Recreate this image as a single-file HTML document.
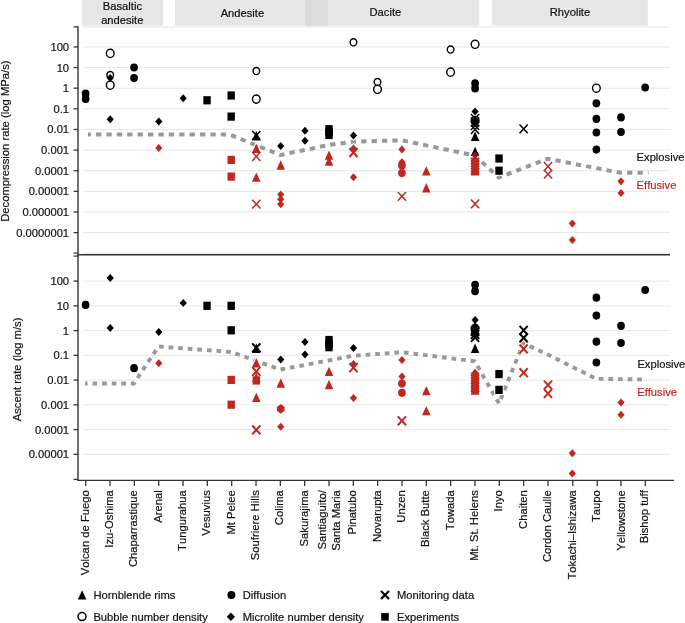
<!DOCTYPE html><html><head><meta charset="utf-8"><style>html,body{margin:0;padding:0;background:#fff;width:685px;height:623px;overflow:hidden}svg{display:block;will-change:transform;filter:blur(0.3px)}text{stroke:#111;stroke-width:0.2px;font-kerning:none;font-family:"Liberation Sans",sans-serif;font-size:11.2px;fill:#111}</style></head><body>
<svg width="685" height="623" viewBox="0 0 685 623">
<rect x="82" y="0" width="81" height="25.7" fill="#e6e6e6"/>
<rect x="175" y="0" width="153" height="25.6" fill="#e6e6e6"/>
<rect x="305" y="0" width="174.3" height="25.6" fill="#e6e6e6"/>
<rect x="305" y="0" width="23" height="25.8" fill="#dcdcdc"/>
<rect x="491.8" y="0" width="156" height="25.6" fill="#e6e6e6"/>
<text x="122.4" y="10.2" text-anchor="middle">Basaltic</text>
<text x="122.3" y="23.7" text-anchor="middle">andesite</text>
<text x="242.4" y="16.9" text-anchor="middle">Andesite</text>
<text x="385.4" y="16.4" text-anchor="middle">Dacite</text>
<text x="570" y="16.4" text-anchor="middle">Rhyolite</text>
<line x1="83" x2="670" y1="26.90" y2="26.90" stroke="#e5e5e5" stroke-width="1"/>
<line x1="83" x2="670" y1="46.94" y2="46.94" stroke="#e5e5e5" stroke-width="1"/>
<line x1="83" x2="670" y1="67.57" y2="67.57" stroke="#e5e5e5" stroke-width="1"/>
<line x1="83" x2="670" y1="88.20" y2="88.20" stroke="#e5e5e5" stroke-width="1"/>
<line x1="83" x2="670" y1="108.83" y2="108.83" stroke="#e5e5e5" stroke-width="1"/>
<line x1="83" x2="670" y1="129.46" y2="129.46" stroke="#e5e5e5" stroke-width="1"/>
<line x1="83" x2="670" y1="150.09" y2="150.09" stroke="#e5e5e5" stroke-width="1"/>
<line x1="83" x2="670" y1="170.72" y2="170.72" stroke="#e5e5e5" stroke-width="1"/>
<line x1="83" x2="670" y1="191.35" y2="191.35" stroke="#e5e5e5" stroke-width="1"/>
<line x1="83" x2="670" y1="211.98" y2="211.98" stroke="#e5e5e5" stroke-width="1"/>
<line x1="83" x2="670" y1="232.61" y2="232.61" stroke="#e5e5e5" stroke-width="1"/>
<line x1="83" x2="670" y1="253.24" y2="253.24" stroke="#e5e5e5" stroke-width="1"/>
<line x1="83" x2="670" y1="281.10" y2="281.10" stroke="#e5e5e5" stroke-width="1"/>
<line x1="83" x2="670" y1="305.85" y2="305.85" stroke="#e5e5e5" stroke-width="1"/>
<line x1="83" x2="670" y1="330.60" y2="330.60" stroke="#e5e5e5" stroke-width="1"/>
<line x1="83" x2="670" y1="355.35" y2="355.35" stroke="#e5e5e5" stroke-width="1"/>
<line x1="83" x2="670" y1="380.10" y2="380.10" stroke="#e5e5e5" stroke-width="1"/>
<line x1="83" x2="670" y1="404.85" y2="404.85" stroke="#e5e5e5" stroke-width="1"/>
<line x1="83" x2="670" y1="429.60" y2="429.60" stroke="#e5e5e5" stroke-width="1"/>
<line x1="83" x2="670" y1="454.35" y2="454.35" stroke="#e5e5e5" stroke-width="1"/>
<path d="M88.0 134.5 L229.5 134.5 L280.5 155.0 L328.7 145.0 L353.0 141.7 L401.7 140.3 L474.7 155.5 L499.0 177.5 L547.6 158.7 L620.5 172.8 L648.5 172.8" fill="none" stroke="#999" stroke-width="4" stroke-dasharray="5.3 5.1" stroke-dashoffset="2.4"/>
<path d="M85.1 383.5 L133.9 383.5 L158.4 346.5 L231.4 352.0 L280.2 369.6 L353.0 355.8 L401.7 352.2 L474.7 361.3 L499.0 403.5 L523.3 343.2 L547.6 354.5 L596.3 378.8 L647.0 379.5" fill="none" stroke="#999" stroke-width="3.9" stroke-dasharray="4.7 4.9" stroke-dashoffset="2.2"/>
<ellipse cx="85.60" cy="93.70" rx="3.85" ry="4.1" fill="#fff" stroke="#fff" stroke-width="2"/>
<ellipse cx="85.60" cy="98.90" rx="3.85" ry="4.1" fill="#fff" stroke="#fff" stroke-width="2"/>
<ellipse cx="110.23" cy="53.40" rx="3.85" ry="4.1" fill="#fff" stroke="#fff" stroke-width="3.4"/>
<ellipse cx="110.23" cy="75.10" rx="3.3" ry="3.55" fill="#fff" stroke="#fff" stroke-width="3.4"/>
<path d="M110.23 73.90L113.83 77.90L110.23 81.90L106.63 77.90Z" fill="#fff" stroke="#fff" stroke-width="2"/>
<ellipse cx="110.23" cy="85.20" rx="3.85" ry="4.1" fill="#fff" stroke="#fff" stroke-width="3.4"/>
<path d="M110.23 115.20L113.83 119.20L110.23 123.20L106.63 119.20Z" fill="#fff" stroke="#fff" stroke-width="2"/>
<ellipse cx="134.06" cy="67.50" rx="3.85" ry="4.1" fill="#fff" stroke="#fff" stroke-width="2"/>
<ellipse cx="134.06" cy="78.10" rx="3.85" ry="4.1" fill="#fff" stroke="#fff" stroke-width="2"/>
<path d="M158.79 117.40L162.39 121.40L158.79 125.40L155.19 121.40Z" fill="#fff" stroke="#fff" stroke-width="2"/>
<path d="M158.79 144.00L162.39 148.00L158.79 152.00L155.19 148.00Z" fill="#fff" stroke="#fff" stroke-width="2"/>
<path d="M183.22 94.20L186.82 98.20L183.22 102.20L179.62 98.20Z" fill="#fff" stroke="#fff" stroke-width="2"/>
<rect x="203.35" y="96.20" width="7.4" height="8.2" fill="#fff" stroke="#fff" stroke-width="2"/>
<rect x="227.48" y="91.40" width="7.4" height="8.2" fill="#fff" stroke="#fff" stroke-width="2"/>
<rect x="227.48" y="112.50" width="7.4" height="8.2" fill="#fff" stroke="#fff" stroke-width="2"/>
<rect x="227.48" y="155.80" width="7.4" height="8.2" fill="#fff" stroke="#fff" stroke-width="2"/>
<rect x="227.48" y="172.50" width="7.4" height="8.2" fill="#fff" stroke="#fff" stroke-width="2"/>
<ellipse cx="256.31" cy="71.10" rx="3.3" ry="3.55" fill="#fff" stroke="#fff" stroke-width="3.4"/>
<ellipse cx="256.31" cy="99.10" rx="3.85" ry="4.1" fill="#fff" stroke="#fff" stroke-width="3.4"/>
<path d="M252.21 130.90L260.41 139.70M260.41 130.90L252.21 139.70" fill="#fff" stroke="#fff" stroke-width="3.4"/>
<path d="M256.31 131.00L260.61 140.40L252.01 140.40Z" fill="#fff" stroke="#fff" stroke-width="2"/>
<path d="M256.31 143.50L260.61 152.90L252.01 152.90Z" fill="#fff" stroke="#fff" stroke-width="2"/>
<path d="M256.31 172.40L260.61 181.80L252.01 181.80Z" fill="#fff" stroke="#fff" stroke-width="2"/>
<path d="M252.21 152.10L260.41 160.90M260.41 152.10L252.21 160.90" fill="#fff" stroke="#fff" stroke-width="3.4"/>
<path d="M252.21 199.80L260.41 208.60M260.41 199.80L252.21 208.60" fill="#fff" stroke="#fff" stroke-width="3.4"/>
<path d="M280.74 142.00L284.34 146.00L280.74 150.00L277.14 146.00Z" fill="#fff" stroke="#fff" stroke-width="2"/>
<path d="M280.74 160.30L285.04 169.70L276.44 169.70Z" fill="#fff" stroke="#fff" stroke-width="2"/>
<path d="M280.74 190.40L284.34 194.40L280.74 198.40L277.14 194.40Z" fill="#fff" stroke="#fff" stroke-width="2"/>
<path d="M280.74 195.30L284.34 199.30L280.74 203.30L277.14 199.30Z" fill="#fff" stroke="#fff" stroke-width="2"/>
<path d="M280.74 200.20L284.34 204.20L280.74 208.20L277.14 204.20Z" fill="#fff" stroke="#fff" stroke-width="2"/>
<path d="M304.97 126.80L308.57 130.80L304.97 134.80L301.37 130.80Z" fill="#fff" stroke="#fff" stroke-width="2"/>
<path d="M304.97 136.70L308.57 140.70L304.97 144.70L301.37 140.70Z" fill="#fff" stroke="#fff" stroke-width="2"/>
<rect x="325.30" y="125.10" width="7.4" height="8.2" fill="#fff" stroke="#fff" stroke-width="2"/>
<rect x="325.30" y="127.90" width="7.4" height="8.2" fill="#fff" stroke="#fff" stroke-width="2"/>
<rect x="325.30" y="130.90" width="7.4" height="8.2" fill="#fff" stroke="#fff" stroke-width="2"/>
<path d="M329.00 150.40L333.30 159.80L324.70 159.80Z" fill="#fff" stroke="#fff" stroke-width="2"/>
<path d="M329.00 156.30L333.30 165.70L324.70 165.70Z" fill="#fff" stroke="#fff" stroke-width="2"/>
<ellipse cx="353.48" cy="42.35" rx="3.3" ry="3.55" fill="#fff" stroke="#fff" stroke-width="3.4"/>
<path d="M353.48 131.50L357.08 135.50L353.48 139.50L349.88 135.50Z" fill="#fff" stroke="#fff" stroke-width="2"/>
<path d="M353.48 144.40L357.08 148.40L353.48 152.40L349.88 148.40Z" fill="#fff" stroke="#fff" stroke-width="2"/>
<path d="M349.38 148.20L357.58 157.00M357.58 148.20L349.38 157.00" fill="#fff" stroke="#fff" stroke-width="3.4"/>
<path d="M353.48 173.30L357.08 177.30L353.48 181.30L349.88 177.30Z" fill="#fff" stroke="#fff" stroke-width="2"/>
<ellipse cx="377.51" cy="82.10" rx="3.3" ry="3.55" fill="#fff" stroke="#fff" stroke-width="3.4"/>
<ellipse cx="377.51" cy="89.35" rx="3.85" ry="4.1" fill="#fff" stroke="#fff" stroke-width="3.4"/>
<path d="M401.94 145.50L405.54 149.50L401.94 153.50L398.34 149.50Z" fill="#fff" stroke="#fff" stroke-width="2"/>
<path d="M401.94 158.30L405.54 162.30L401.94 166.30L398.34 162.30Z" fill="#fff" stroke="#fff" stroke-width="2"/>
<ellipse cx="401.94" cy="165.40" rx="3.85" ry="4.1" fill="#fff" stroke="#fff" stroke-width="2"/>
<ellipse cx="401.94" cy="173.10" rx="3.85" ry="4.1" fill="#fff" stroke="#fff" stroke-width="2"/>
<path d="M397.84 192.00L406.04 200.80M406.04 192.00L397.84 200.80" fill="#fff" stroke="#fff" stroke-width="3.4"/>
<path d="M426.32 166.20L430.62 175.60L422.02 175.60Z" fill="#fff" stroke="#fff" stroke-width="2"/>
<path d="M426.32 183.10L430.62 192.50L422.02 192.50Z" fill="#fff" stroke="#fff" stroke-width="2"/>
<ellipse cx="450.60" cy="49.60" rx="3.3" ry="3.55" fill="#fff" stroke="#fff" stroke-width="3.4"/>
<ellipse cx="450.60" cy="72.15" rx="3.85" ry="4.1" fill="#fff" stroke="#fff" stroke-width="3.4"/>
<ellipse cx="475.08" cy="44.30" rx="3.85" ry="4.1" fill="#fff" stroke="#fff" stroke-width="3.4"/>
<ellipse cx="475.08" cy="120.50" rx="3.85" ry="4.1" fill="#fff" stroke="#fff" stroke-width="3.4"/>
<ellipse cx="475.08" cy="83.40" rx="3.85" ry="4.1" fill="#fff" stroke="#fff" stroke-width="2"/>
<ellipse cx="475.08" cy="88.40" rx="3.85" ry="4.1" fill="#fff" stroke="#fff" stroke-width="2"/>
<ellipse cx="475.08" cy="122.00" rx="3.85" ry="4.1" fill="#fff" stroke="#fff" stroke-width="2"/>
<path d="M475.08 107.40L478.68 111.40L475.08 115.40L471.48 111.40Z" fill="#fff" stroke="#fff" stroke-width="2"/>
<path d="M470.98 114.10L479.18 122.90M479.18 114.10L470.98 122.90" fill="#fff" stroke="#fff" stroke-width="3.4"/>
<path d="M470.98 117.60L479.18 126.40M479.18 117.60L470.98 126.40" fill="#fff" stroke="#fff" stroke-width="3.4"/>
<path d="M470.98 121.10L479.18 129.90M479.18 121.10L470.98 129.90" fill="#fff" stroke="#fff" stroke-width="3.4"/>
<path d="M470.98 125.10L479.18 133.90M479.18 125.10L470.98 133.90" fill="#fff" stroke="#fff" stroke-width="3.4"/>
<path d="M475.08 131.60L479.38 141.00L470.78 141.00Z" fill="#fff" stroke="#fff" stroke-width="2"/>
<path d="M475.08 146.70L479.38 156.10L470.78 156.10Z" fill="#fff" stroke="#fff" stroke-width="2"/>
<path d="M471.08 157.60 L470.48 158.40 L471.38 159.70 L470.48 161.00 L471.38 162.30 L470.48 163.60 L471.38 164.90 L470.48 166.20 L471.38 167.50 L470.48 168.80 L471.38 170.10 L470.48 171.40 L471.38 172.70 L470.48 174.00 L471.38 175.30 L470.78 175.60 L479.38 175.60 L478.78 175.30 L479.68 174.00 L478.78 172.70 L479.68 171.40 L478.78 170.10 L479.68 168.80 L478.78 167.50 L479.68 166.20 L478.78 164.90 L479.68 163.60 L478.78 162.30 L479.68 161.00 L478.78 159.70 L479.68 158.40 L479.08 157.60Z" fill="#fff" stroke="#fff" stroke-width="2"/>
<path d="M475.08 151.60L478.68 155.20L475.08 158.80L471.48 155.20Z" fill="#fff" stroke="#fff" stroke-width="2"/>
<path d="M470.98 199.40L479.18 208.20M479.18 199.40L470.98 208.20" fill="#fff" stroke="#fff" stroke-width="3.4"/>
<rect x="495.31" y="154.40" width="7.4" height="8.2" fill="#fff" stroke="#fff" stroke-width="2"/>
<rect x="495.31" y="166.60" width="7.4" height="8.2" fill="#fff" stroke="#fff" stroke-width="2"/>
<path d="M519.54 124.50L527.74 133.30M527.74 124.50L519.54 133.30" fill="#fff" stroke="#fff" stroke-width="3.4"/>
<path d="M543.92 162.10L552.12 170.90M552.12 162.10L543.92 170.90" fill="#fff" stroke="#fff" stroke-width="3.4"/>
<path d="M543.92 169.80L552.12 178.60M552.12 169.80L543.92 178.60" fill="#fff" stroke="#fff" stroke-width="3.4"/>
<path d="M572.30 219.60L575.90 223.60L572.30 227.60L568.70 223.60Z" fill="#fff" stroke="#fff" stroke-width="2"/>
<path d="M572.30 236.10L575.90 240.10L572.30 244.10L568.70 240.10Z" fill="#fff" stroke="#fff" stroke-width="2"/>
<ellipse cx="596.38" cy="88.20" rx="3.85" ry="4.1" fill="#fff" stroke="#fff" stroke-width="3.4"/>
<ellipse cx="596.38" cy="103.30" rx="3.85" ry="4.1" fill="#fff" stroke="#fff" stroke-width="2"/>
<ellipse cx="596.38" cy="118.90" rx="3.85" ry="4.1" fill="#fff" stroke="#fff" stroke-width="2"/>
<ellipse cx="596.38" cy="132.50" rx="3.85" ry="4.1" fill="#fff" stroke="#fff" stroke-width="2"/>
<ellipse cx="596.38" cy="149.60" rx="3.85" ry="4.1" fill="#fff" stroke="#fff" stroke-width="2"/>
<ellipse cx="621.01" cy="117.40" rx="3.85" ry="4.1" fill="#fff" stroke="#fff" stroke-width="2"/>
<ellipse cx="621.01" cy="132.00" rx="3.85" ry="4.1" fill="#fff" stroke="#fff" stroke-width="2"/>
<path d="M621.01 177.30L624.61 181.30L621.01 185.30L617.41 181.30Z" fill="#fff" stroke="#fff" stroke-width="2"/>
<path d="M621.01 188.90L624.61 192.90L621.01 196.90L617.41 192.90Z" fill="#fff" stroke="#fff" stroke-width="2"/>
<ellipse cx="645.19" cy="87.50" rx="3.85" ry="4.1" fill="#fff" stroke="#fff" stroke-width="2"/>
<ellipse cx="85.60" cy="304.90" rx="3.85" ry="4.1" fill="#fff" stroke="#fff" stroke-width="2"/>
<path d="M110.23 274.00L113.83 278.00L110.23 282.00L106.63 278.00Z" fill="#fff" stroke="#fff" stroke-width="2"/>
<path d="M110.23 323.90L113.83 327.90L110.23 331.90L106.63 327.90Z" fill="#fff" stroke="#fff" stroke-width="2"/>
<ellipse cx="134.06" cy="368.20" rx="3.85" ry="4.1" fill="#fff" stroke="#fff" stroke-width="2"/>
<path d="M158.79 327.90L162.39 331.90L158.79 335.90L155.19 331.90Z" fill="#fff" stroke="#fff" stroke-width="2"/>
<path d="M158.79 359.20L162.39 363.20L158.79 367.20L155.19 363.20Z" fill="#fff" stroke="#fff" stroke-width="2"/>
<path d="M183.22 299.10L186.82 303.10L183.22 307.10L179.62 303.10Z" fill="#fff" stroke="#fff" stroke-width="2"/>
<rect x="203.35" y="301.70" width="7.4" height="8.2" fill="#fff" stroke="#fff" stroke-width="2"/>
<rect x="227.48" y="301.70" width="7.4" height="8.2" fill="#fff" stroke="#fff" stroke-width="2"/>
<rect x="227.48" y="326.20" width="7.4" height="8.2" fill="#fff" stroke="#fff" stroke-width="2"/>
<rect x="227.48" y="375.80" width="7.4" height="8.2" fill="#fff" stroke="#fff" stroke-width="2"/>
<rect x="227.48" y="400.60" width="7.4" height="8.2" fill="#fff" stroke="#fff" stroke-width="2"/>
<path d="M252.21 343.40L260.41 352.20M260.41 343.40L252.21 352.20" fill="#fff" stroke="#fff" stroke-width="3.4"/>
<path d="M256.31 343.60L260.61 353.00L252.01 353.00Z" fill="#fff" stroke="#fff" stroke-width="2"/>
<rect x="252.61" y="376.40" width="7.4" height="8.2" fill="#fff" stroke="#fff" stroke-width="2"/>
<path d="M256.31 358.00L260.61 367.40L252.01 367.40Z" fill="#fff" stroke="#fff" stroke-width="2"/>
<path d="M256.31 372.50L260.61 381.90L252.01 381.90Z" fill="#fff" stroke="#fff" stroke-width="2"/>
<path d="M256.31 392.70L260.61 402.10L252.01 402.10Z" fill="#fff" stroke="#fff" stroke-width="2"/>
<path d="M252.21 367.10L260.41 375.90M260.41 367.10L252.21 375.90" fill="#fff" stroke="#fff" stroke-width="3.4"/>
<path d="M252.21 425.50L260.41 434.30M260.41 425.50L252.21 434.30" fill="#fff" stroke="#fff" stroke-width="3.4"/>
<path d="M280.74 355.40L284.34 359.40L280.74 363.40L277.14 359.40Z" fill="#fff" stroke="#fff" stroke-width="2"/>
<path d="M280.74 378.30L285.04 387.70L276.44 387.70Z" fill="#fff" stroke="#fff" stroke-width="2"/>
<path d="M280.74 404.00L284.54 407.00L284.54 410.80L280.74 413.80L276.94 410.80L276.94 407.00Z" fill="#fff" stroke="#fff" stroke-width="2"/>
<path d="M280.74 422.70L284.34 426.70L280.74 430.70L277.14 426.70Z" fill="#fff" stroke="#fff" stroke-width="2"/>
<path d="M304.97 338.00L308.57 342.00L304.97 346.00L301.37 342.00Z" fill="#fff" stroke="#fff" stroke-width="2"/>
<path d="M304.97 350.50L308.57 354.50L304.97 358.50L301.37 354.50Z" fill="#fff" stroke="#fff" stroke-width="2"/>
<rect x="325.30" y="335.90" width="7.4" height="8.2" fill="#fff" stroke="#fff" stroke-width="2"/>
<rect x="325.30" y="339.40" width="7.4" height="8.2" fill="#fff" stroke="#fff" stroke-width="2"/>
<rect x="325.30" y="343.10" width="7.4" height="8.2" fill="#fff" stroke="#fff" stroke-width="2"/>
<path d="M329.00 366.70L333.30 376.10L324.70 376.10Z" fill="#fff" stroke="#fff" stroke-width="2"/>
<path d="M329.00 379.80L333.30 389.20L324.70 389.20Z" fill="#fff" stroke="#fff" stroke-width="2"/>
<path d="M353.48 344.00L357.08 348.00L353.48 352.00L349.88 348.00Z" fill="#fff" stroke="#fff" stroke-width="2"/>
<path d="M353.48 359.90L357.08 363.90L353.48 367.90L349.88 363.90Z" fill="#fff" stroke="#fff" stroke-width="2"/>
<path d="M353.48 393.90L357.08 397.90L353.48 401.90L349.88 397.90Z" fill="#fff" stroke="#fff" stroke-width="2"/>
<path d="M349.38 363.30L357.58 372.10M357.58 363.30L349.38 372.10" fill="#fff" stroke="#fff" stroke-width="3.4"/>
<path d="M401.94 355.90L405.54 359.90L401.94 363.90L398.34 359.90Z" fill="#fff" stroke="#fff" stroke-width="2"/>
<path d="M401.94 372.50L405.54 376.50L401.94 380.50L398.34 376.50Z" fill="#fff" stroke="#fff" stroke-width="2"/>
<ellipse cx="401.94" cy="383.60" rx="3.85" ry="4.1" fill="#fff" stroke="#fff" stroke-width="2"/>
<ellipse cx="401.94" cy="392.80" rx="3.85" ry="4.1" fill="#fff" stroke="#fff" stroke-width="2"/>
<path d="M397.84 416.40L406.04 425.20M406.04 416.40L397.84 425.20" fill="#fff" stroke="#fff" stroke-width="3.4"/>
<path d="M426.32 385.90L430.62 395.30L422.02 395.30Z" fill="#fff" stroke="#fff" stroke-width="2"/>
<path d="M426.32 405.90L430.62 415.30L422.02 415.30Z" fill="#fff" stroke="#fff" stroke-width="2"/>
<ellipse cx="475.08" cy="284.80" rx="3.85" ry="4.1" fill="#fff" stroke="#fff" stroke-width="2"/>
<ellipse cx="475.08" cy="291.20" rx="3.85" ry="4.1" fill="#fff" stroke="#fff" stroke-width="2"/>
<ellipse cx="475.08" cy="328.50" rx="3.85" ry="4.1" fill="#fff" stroke="#fff" stroke-width="3.4"/>
<path d="M475.08 316.00L478.68 320.00L475.08 324.00L471.48 320.00Z" fill="#fff" stroke="#fff" stroke-width="2"/>
<path d="M475.08 322.30L478.68 326.30L475.08 330.30L471.48 326.30Z" fill="#fff" stroke="#fff" stroke-width="2"/>
<ellipse cx="475.08" cy="333.00" rx="3.85" ry="4.1" fill="#fff" stroke="#fff" stroke-width="2"/>
<path d="M470.98 327.10L479.18 335.90M479.18 327.10L470.98 335.90" fill="#fff" stroke="#fff" stroke-width="3.4"/>
<path d="M470.98 330.10L479.18 338.90M479.18 330.10L470.98 338.90" fill="#fff" stroke="#fff" stroke-width="3.4"/>
<path d="M470.98 333.10L479.18 341.90M479.18 333.10L470.98 341.90" fill="#fff" stroke="#fff" stroke-width="3.4"/>
<path d="M475.08 343.60L479.38 353.00L470.78 353.00Z" fill="#fff" stroke="#fff" stroke-width="2"/>
<path d="M475.08 368.40 L471.88 372.60 L470.48 372.90 L471.38 374.20 L470.48 375.50 L471.38 376.80 L470.48 378.10 L471.38 379.40 L470.48 380.70 L471.38 382.00 L470.48 383.30 L471.38 384.60 L470.48 385.90 L471.38 387.20 L470.48 388.50 L471.38 389.80 L470.48 391.10 L471.38 392.40 L470.78 394.80 L479.38 394.80 L478.78 392.40 L479.68 391.10 L478.78 389.80 L479.68 388.50 L478.78 387.20 L479.68 385.90 L478.78 384.60 L479.68 383.30 L478.78 382.00 L479.68 380.70 L478.78 379.40 L479.68 378.10 L478.78 376.80 L479.68 375.50 L478.78 374.20 L479.68 372.90 L478.28 372.60Z" fill="#fff" stroke="#fff" stroke-width="2"/>
<rect x="495.31" y="370.00" width="7.4" height="8.2" fill="#fff" stroke="#fff" stroke-width="2"/>
<rect x="495.31" y="385.80" width="7.4" height="8.2" fill="#fff" stroke="#fff" stroke-width="2"/>
<path d="M519.54 325.90L527.74 334.70M527.74 325.90L519.54 334.70" fill="#fff" stroke="#fff" stroke-width="3.4"/>
<path d="M519.54 333.50L527.74 342.30M527.74 333.50L519.54 342.30" fill="#fff" stroke="#fff" stroke-width="3.4"/>
<path d="M519.54 344.50L527.74 353.30M527.74 344.50L519.54 353.30" fill="#fff" stroke="#fff" stroke-width="3.4"/>
<path d="M519.54 368.30L527.74 377.10M527.74 368.30L519.54 377.10" fill="#fff" stroke="#fff" stroke-width="3.4"/>
<path d="M543.92 380.60L552.12 389.40M552.12 380.60L543.92 389.40" fill="#fff" stroke="#fff" stroke-width="3.4"/>
<path d="M543.92 389.10L552.12 397.90M552.12 389.10L543.92 397.90" fill="#fff" stroke="#fff" stroke-width="3.4"/>
<path d="M572.30 449.30L575.90 453.30L572.30 457.30L568.70 453.30Z" fill="#fff" stroke="#fff" stroke-width="2"/>
<path d="M572.30 469.60L575.90 473.60L572.30 477.60L568.70 473.60Z" fill="#fff" stroke="#fff" stroke-width="2"/>
<ellipse cx="596.38" cy="297.70" rx="3.85" ry="4.1" fill="#fff" stroke="#fff" stroke-width="2"/>
<ellipse cx="596.38" cy="315.60" rx="3.85" ry="4.1" fill="#fff" stroke="#fff" stroke-width="2"/>
<ellipse cx="596.38" cy="341.70" rx="3.85" ry="4.1" fill="#fff" stroke="#fff" stroke-width="2"/>
<ellipse cx="596.38" cy="362.50" rx="3.85" ry="4.1" fill="#fff" stroke="#fff" stroke-width="2"/>
<ellipse cx="621.01" cy="325.90" rx="3.85" ry="4.1" fill="#fff" stroke="#fff" stroke-width="2"/>
<ellipse cx="621.01" cy="343.00" rx="3.85" ry="4.1" fill="#fff" stroke="#fff" stroke-width="2"/>
<path d="M621.01 398.40L624.61 402.40L621.01 406.40L617.41 402.40Z" fill="#fff" stroke="#fff" stroke-width="2"/>
<path d="M621.01 410.70L624.61 414.70L621.01 418.70L617.41 414.70Z" fill="#fff" stroke="#fff" stroke-width="2"/>
<ellipse cx="645.19" cy="290.00" rx="3.85" ry="4.1" fill="#fff" stroke="#fff" stroke-width="2"/>
<ellipse cx="85.60" cy="93.70" rx="3.85" ry="4.1" fill="#000"/>
<ellipse cx="85.60" cy="98.90" rx="3.85" ry="4.1" fill="#000"/>
<ellipse cx="110.23" cy="53.40" rx="3.85" ry="4.1" fill="#fff" stroke="#000" stroke-width="1.4"/>
<ellipse cx="110.23" cy="75.10" rx="3.3" ry="3.55" fill="#fff" stroke="#000" stroke-width="1.4"/>
<path d="M110.23 73.90L113.83 77.90L110.23 81.90L106.63 77.90Z" fill="#000"/>
<ellipse cx="110.23" cy="85.20" rx="3.85" ry="4.1" fill="#fff" stroke="#000" stroke-width="1.4"/>
<path d="M110.23 115.20L113.83 119.20L110.23 123.20L106.63 119.20Z" fill="#000"/>
<ellipse cx="134.06" cy="67.50" rx="3.85" ry="4.1" fill="#000"/>
<ellipse cx="134.06" cy="78.10" rx="3.85" ry="4.1" fill="#000"/>
<path d="M158.79 117.40L162.39 121.40L158.79 125.40L155.19 121.40Z" fill="#000"/>
<path d="M158.79 144.00L162.39 148.00L158.79 152.00L155.19 148.00Z" fill="#c1271f"/>
<path d="M183.22 94.20L186.82 98.20L183.22 102.20L179.62 98.20Z" fill="#000"/>
<rect x="203.35" y="96.20" width="7.4" height="8.2" fill="#000"/>
<rect x="227.48" y="91.40" width="7.4" height="8.2" fill="#000"/>
<rect x="227.48" y="112.50" width="7.4" height="8.2" fill="#000"/>
<rect x="227.48" y="155.80" width="7.4" height="8.2" fill="#c1271f"/>
<rect x="227.48" y="172.50" width="7.4" height="8.2" fill="#c1271f"/>
<ellipse cx="256.31" cy="71.10" rx="3.3" ry="3.55" fill="#fff" stroke="#000" stroke-width="1.4"/>
<ellipse cx="256.31" cy="99.10" rx="3.85" ry="4.1" fill="#fff" stroke="#000" stroke-width="1.4"/>
<path d="M252.21 130.90L260.41 139.70M260.41 130.90L252.21 139.70" fill="none" stroke="#000" stroke-width="1.5"/>
<path d="M256.31 131.00L260.61 140.40L252.01 140.40Z" fill="#000"/>
<path d="M256.31 143.50L260.61 152.90L252.01 152.90Z" fill="#c1271f"/>
<path d="M256.31 172.40L260.61 181.80L252.01 181.80Z" fill="#c1271f"/>
<path d="M252.21 152.10L260.41 160.90M260.41 152.10L252.21 160.90" fill="none" stroke="#c1271f" stroke-width="1.5"/>
<path d="M252.21 199.80L260.41 208.60M260.41 199.80L252.21 208.60" fill="none" stroke="#c1271f" stroke-width="1.5"/>
<path d="M280.74 142.00L284.34 146.00L280.74 150.00L277.14 146.00Z" fill="#000"/>
<path d="M280.74 160.30L285.04 169.70L276.44 169.70Z" fill="#c1271f"/>
<path d="M280.74 190.40L284.34 194.40L280.74 198.40L277.14 194.40Z" fill="#c1271f"/>
<path d="M280.74 195.30L284.34 199.30L280.74 203.30L277.14 199.30Z" fill="#c1271f"/>
<path d="M280.74 200.20L284.34 204.20L280.74 208.20L277.14 204.20Z" fill="#c1271f"/>
<path d="M304.97 126.80L308.57 130.80L304.97 134.80L301.37 130.80Z" fill="#000"/>
<path d="M304.97 136.70L308.57 140.70L304.97 144.70L301.37 140.70Z" fill="#000"/>
<rect x="325.30" y="125.10" width="7.4" height="8.2" fill="#000"/>
<rect x="325.30" y="127.90" width="7.4" height="8.2" fill="#000"/>
<rect x="325.30" y="130.90" width="7.4" height="8.2" fill="#000"/>
<path d="M329.00 150.40L333.30 159.80L324.70 159.80Z" fill="#c1271f"/>
<path d="M329.00 156.30L333.30 165.70L324.70 165.70Z" fill="#c1271f"/>
<ellipse cx="353.48" cy="42.35" rx="3.3" ry="3.55" fill="#fff" stroke="#000" stroke-width="1.4"/>
<path d="M353.48 131.50L357.08 135.50L353.48 139.50L349.88 135.50Z" fill="#000"/>
<path d="M353.48 144.40L357.08 148.40L353.48 152.40L349.88 148.40Z" fill="#c1271f"/>
<path d="M349.38 148.20L357.58 157.00M357.58 148.20L349.38 157.00" fill="none" stroke="#c1271f" stroke-width="2.0"/>
<path d="M353.48 173.30L357.08 177.30L353.48 181.30L349.88 177.30Z" fill="#c1271f"/>
<ellipse cx="377.51" cy="82.10" rx="3.3" ry="3.55" fill="#fff" stroke="#000" stroke-width="1.4"/>
<ellipse cx="377.51" cy="89.35" rx="3.85" ry="4.1" fill="#fff" stroke="#000" stroke-width="1.4"/>
<path d="M401.94 145.50L405.54 149.50L401.94 153.50L398.34 149.50Z" fill="#c1271f"/>
<path d="M401.94 158.30L405.54 162.30L401.94 166.30L398.34 162.30Z" fill="#c1271f"/>
<ellipse cx="401.94" cy="165.40" rx="3.85" ry="4.1" fill="#c1271f"/>
<ellipse cx="401.94" cy="173.10" rx="3.85" ry="4.1" fill="#c1271f"/>
<path d="M397.84 192.00L406.04 200.80M406.04 192.00L397.84 200.80" fill="none" stroke="#c1271f" stroke-width="1.5"/>
<path d="M426.32 166.20L430.62 175.60L422.02 175.60Z" fill="#c1271f"/>
<path d="M426.32 183.10L430.62 192.50L422.02 192.50Z" fill="#c1271f"/>
<ellipse cx="450.60" cy="49.60" rx="3.3" ry="3.55" fill="#fff" stroke="#000" stroke-width="1.4"/>
<ellipse cx="450.60" cy="72.15" rx="3.85" ry="4.1" fill="#fff" stroke="#000" stroke-width="1.4"/>
<ellipse cx="475.08" cy="44.30" rx="3.85" ry="4.1" fill="#fff" stroke="#000" stroke-width="1.4"/>
<ellipse cx="475.08" cy="120.50" rx="3.85" ry="4.1" fill="#fff" stroke="#000" stroke-width="1.4"/>
<ellipse cx="475.08" cy="83.40" rx="3.85" ry="4.1" fill="#000"/>
<ellipse cx="475.08" cy="88.40" rx="3.85" ry="4.1" fill="#000"/>
<ellipse cx="475.08" cy="122.00" rx="3.85" ry="4.1" fill="#000"/>
<path d="M475.08 107.40L478.68 111.40L475.08 115.40L471.48 111.40Z" fill="#000"/>
<path d="M470.98 114.10L479.18 122.90M479.18 114.10L470.98 122.90" fill="none" stroke="#000" stroke-width="1.5"/>
<path d="M470.98 117.60L479.18 126.40M479.18 117.60L470.98 126.40" fill="none" stroke="#000" stroke-width="1.5"/>
<path d="M470.98 121.10L479.18 129.90M479.18 121.10L470.98 129.90" fill="none" stroke="#000" stroke-width="1.5"/>
<path d="M470.98 125.10L479.18 133.90M479.18 125.10L470.98 133.90" fill="none" stroke="#000" stroke-width="1.5"/>
<path d="M475.08 131.60L479.38 141.00L470.78 141.00Z" fill="#000"/>
<path d="M475.08 146.70L479.38 156.10L470.78 156.10Z" fill="#000"/>
<path d="M471.08 157.60 L470.48 158.40 L471.38 159.70 L470.48 161.00 L471.38 162.30 L470.48 163.60 L471.38 164.90 L470.48 166.20 L471.38 167.50 L470.48 168.80 L471.38 170.10 L470.48 171.40 L471.38 172.70 L470.48 174.00 L471.38 175.30 L470.78 175.60 L479.38 175.60 L478.78 175.30 L479.68 174.00 L478.78 172.70 L479.68 171.40 L478.78 170.10 L479.68 168.80 L478.78 167.50 L479.68 166.20 L478.78 164.90 L479.68 163.60 L478.78 162.30 L479.68 161.00 L478.78 159.70 L479.68 158.40 L479.08 157.60Z" fill="#c1271f"/>
<path d="M475.08 151.60L478.68 155.20L475.08 158.80L471.48 155.20Z" fill="#861a14"/>
<path d="M470.98 199.40L479.18 208.20M479.18 199.40L470.98 208.20" fill="none" stroke="#c1271f" stroke-width="1.5"/>
<rect x="495.31" y="154.40" width="7.4" height="8.2" fill="#000"/>
<rect x="495.31" y="166.60" width="7.4" height="8.2" fill="#000"/>
<path d="M519.54 124.50L527.74 133.30M527.74 124.50L519.54 133.30" fill="none" stroke="#000" stroke-width="1.5"/>
<path d="M543.92 162.10L552.12 170.90M552.12 162.10L543.92 170.90" fill="none" stroke="#c1271f" stroke-width="1.5"/>
<path d="M543.92 169.80L552.12 178.60M552.12 169.80L543.92 178.60" fill="none" stroke="#c1271f" stroke-width="1.5"/>
<path d="M572.30 219.60L575.90 223.60L572.30 227.60L568.70 223.60Z" fill="#c1271f"/>
<path d="M572.30 236.10L575.90 240.10L572.30 244.10L568.70 240.10Z" fill="#c1271f"/>
<ellipse cx="596.38" cy="88.20" rx="3.85" ry="4.1" fill="#fff" stroke="#000" stroke-width="1.4"/>
<ellipse cx="596.38" cy="103.30" rx="3.85" ry="4.1" fill="#000"/>
<ellipse cx="596.38" cy="118.90" rx="3.85" ry="4.1" fill="#000"/>
<ellipse cx="596.38" cy="132.50" rx="3.85" ry="4.1" fill="#000"/>
<ellipse cx="596.38" cy="149.60" rx="3.85" ry="4.1" fill="#000"/>
<ellipse cx="621.01" cy="117.40" rx="3.85" ry="4.1" fill="#000"/>
<ellipse cx="621.01" cy="132.00" rx="3.85" ry="4.1" fill="#000"/>
<path d="M621.01 177.30L624.61 181.30L621.01 185.30L617.41 181.30Z" fill="#c1271f"/>
<path d="M621.01 188.90L624.61 192.90L621.01 196.90L617.41 192.90Z" fill="#c1271f"/>
<ellipse cx="645.19" cy="87.50" rx="3.85" ry="4.1" fill="#000"/>
<ellipse cx="85.60" cy="304.90" rx="3.85" ry="4.1" fill="#000"/>
<path d="M110.23 274.00L113.83 278.00L110.23 282.00L106.63 278.00Z" fill="#000"/>
<path d="M110.23 323.90L113.83 327.90L110.23 331.90L106.63 327.90Z" fill="#000"/>
<ellipse cx="134.06" cy="368.20" rx="3.85" ry="4.1" fill="#000"/>
<path d="M158.79 327.90L162.39 331.90L158.79 335.90L155.19 331.90Z" fill="#000"/>
<path d="M158.79 359.20L162.39 363.20L158.79 367.20L155.19 363.20Z" fill="#c1271f"/>
<path d="M183.22 299.10L186.82 303.10L183.22 307.10L179.62 303.10Z" fill="#000"/>
<rect x="203.35" y="301.70" width="7.4" height="8.2" fill="#000"/>
<rect x="227.48" y="301.70" width="7.4" height="8.2" fill="#000"/>
<rect x="227.48" y="326.20" width="7.4" height="8.2" fill="#000"/>
<rect x="227.48" y="375.80" width="7.4" height="8.2" fill="#c1271f"/>
<rect x="227.48" y="400.60" width="7.4" height="8.2" fill="#c1271f"/>
<path d="M252.21 343.40L260.41 352.20M260.41 343.40L252.21 352.20" fill="none" stroke="#000" stroke-width="2.0"/>
<path d="M256.31 343.60L260.61 353.00L252.01 353.00Z" fill="#000"/>
<rect x="252.61" y="376.40" width="7.4" height="8.2" fill="#c1271f"/>
<path d="M256.31 358.00L260.61 367.40L252.01 367.40Z" fill="#c1271f"/>
<path d="M256.31 372.50L260.61 381.90L252.01 381.90Z" fill="#c1271f"/>
<path d="M256.31 392.70L260.61 402.10L252.01 402.10Z" fill="#c1271f"/>
<path d="M252.21 367.10L260.41 375.90M260.41 367.10L252.21 375.90" fill="none" stroke="#c1271f" stroke-width="2.0"/>
<path d="M252.21 425.50L260.41 434.30M260.41 425.50L252.21 434.30" fill="none" stroke="#c1271f" stroke-width="2.0"/>
<path d="M280.74 355.40L284.34 359.40L280.74 363.40L277.14 359.40Z" fill="#000"/>
<path d="M280.74 378.30L285.04 387.70L276.44 387.70Z" fill="#c1271f"/>
<path d="M280.74 404.00L284.54 407.00L284.54 410.80L280.74 413.80L276.94 410.80L276.94 407.00Z" fill="#c1271f"/>
<path d="M280.74 422.70L284.34 426.70L280.74 430.70L277.14 426.70Z" fill="#c1271f"/>
<path d="M304.97 338.00L308.57 342.00L304.97 346.00L301.37 342.00Z" fill="#000"/>
<path d="M304.97 350.50L308.57 354.50L304.97 358.50L301.37 354.50Z" fill="#000"/>
<rect x="325.30" y="335.90" width="7.4" height="8.2" fill="#000"/>
<rect x="325.30" y="339.40" width="7.4" height="8.2" fill="#000"/>
<rect x="325.30" y="343.10" width="7.4" height="8.2" fill="#000"/>
<path d="M329.00 366.70L333.30 376.10L324.70 376.10Z" fill="#c1271f"/>
<path d="M329.00 379.80L333.30 389.20L324.70 389.20Z" fill="#c1271f"/>
<path d="M353.48 344.00L357.08 348.00L353.48 352.00L349.88 348.00Z" fill="#000"/>
<path d="M353.48 359.90L357.08 363.90L353.48 367.90L349.88 363.90Z" fill="#c1271f"/>
<path d="M353.48 393.90L357.08 397.90L353.48 401.90L349.88 397.90Z" fill="#c1271f"/>
<path d="M349.38 363.30L357.58 372.10M357.58 363.30L349.38 372.10" fill="none" stroke="#c1271f" stroke-width="2.0"/>
<path d="M401.94 355.90L405.54 359.90L401.94 363.90L398.34 359.90Z" fill="#c1271f"/>
<path d="M401.94 372.50L405.54 376.50L401.94 380.50L398.34 376.50Z" fill="#c1271f"/>
<ellipse cx="401.94" cy="383.60" rx="3.85" ry="4.1" fill="#c1271f"/>
<ellipse cx="401.94" cy="392.80" rx="3.85" ry="4.1" fill="#c1271f"/>
<path d="M397.84 416.40L406.04 425.20M406.04 416.40L397.84 425.20" fill="none" stroke="#c1271f" stroke-width="2.0"/>
<path d="M426.32 385.90L430.62 395.30L422.02 395.30Z" fill="#c1271f"/>
<path d="M426.32 405.90L430.62 415.30L422.02 415.30Z" fill="#c1271f"/>
<ellipse cx="475.08" cy="284.80" rx="3.85" ry="4.1" fill="#000"/>
<ellipse cx="475.08" cy="291.20" rx="3.85" ry="4.1" fill="#000"/>
<ellipse cx="475.08" cy="328.50" rx="3.85" ry="4.1" fill="#fff" stroke="#000" stroke-width="1.4"/>
<path d="M475.08 316.00L478.68 320.00L475.08 324.00L471.48 320.00Z" fill="#000"/>
<path d="M475.08 322.30L478.68 326.30L475.08 330.30L471.48 326.30Z" fill="#000"/>
<ellipse cx="475.08" cy="333.00" rx="3.85" ry="4.1" fill="#000"/>
<path d="M470.98 327.10L479.18 335.90M479.18 327.10L470.98 335.90" fill="none" stroke="#000" stroke-width="2.0"/>
<path d="M470.98 330.10L479.18 338.90M479.18 330.10L470.98 338.90" fill="none" stroke="#000" stroke-width="2.0"/>
<path d="M470.98 333.10L479.18 341.90M479.18 333.10L470.98 341.90" fill="none" stroke="#000" stroke-width="2.0"/>
<path d="M475.08 343.60L479.38 353.00L470.78 353.00Z" fill="#000"/>
<path d="M475.08 368.40 L471.88 372.60 L470.48 372.90 L471.38 374.20 L470.48 375.50 L471.38 376.80 L470.48 378.10 L471.38 379.40 L470.48 380.70 L471.38 382.00 L470.48 383.30 L471.38 384.60 L470.48 385.90 L471.38 387.20 L470.48 388.50 L471.38 389.80 L470.48 391.10 L471.38 392.40 L470.78 394.80 L479.38 394.80 L478.78 392.40 L479.68 391.10 L478.78 389.80 L479.68 388.50 L478.78 387.20 L479.68 385.90 L478.78 384.60 L479.68 383.30 L478.78 382.00 L479.68 380.70 L478.78 379.40 L479.68 378.10 L478.78 376.80 L479.68 375.50 L478.78 374.20 L479.68 372.90 L478.28 372.60Z" fill="#c1271f"/>
<rect x="495.31" y="370.00" width="7.4" height="8.2" fill="#000"/>
<rect x="495.31" y="385.80" width="7.4" height="8.2" fill="#000"/>
<path d="M519.54 325.90L527.74 334.70M527.74 325.90L519.54 334.70" fill="none" stroke="#000" stroke-width="2.0"/>
<path d="M519.54 333.50L527.74 342.30M527.74 333.50L519.54 342.30" fill="none" stroke="#000" stroke-width="2.0"/>
<path d="M519.54 344.50L527.74 353.30M527.74 344.50L519.54 353.30" fill="none" stroke="#c1271f" stroke-width="2.0"/>
<path d="M519.54 368.30L527.74 377.10M527.74 368.30L519.54 377.10" fill="none" stroke="#c1271f" stroke-width="2.0"/>
<path d="M543.92 380.60L552.12 389.40M552.12 380.60L543.92 389.40" fill="none" stroke="#c1271f" stroke-width="2.0"/>
<path d="M543.92 389.10L552.12 397.90M552.12 389.10L543.92 397.90" fill="none" stroke="#c1271f" stroke-width="2.0"/>
<path d="M572.30 449.30L575.90 453.30L572.30 457.30L568.70 453.30Z" fill="#c1271f"/>
<path d="M572.30 469.60L575.90 473.60L572.30 477.60L568.70 473.60Z" fill="#c1271f"/>
<ellipse cx="596.38" cy="297.70" rx="3.85" ry="4.1" fill="#000"/>
<ellipse cx="596.38" cy="315.60" rx="3.85" ry="4.1" fill="#000"/>
<ellipse cx="596.38" cy="341.70" rx="3.85" ry="4.1" fill="#000"/>
<ellipse cx="596.38" cy="362.50" rx="3.85" ry="4.1" fill="#000"/>
<ellipse cx="621.01" cy="325.90" rx="3.85" ry="4.1" fill="#000"/>
<ellipse cx="621.01" cy="343.00" rx="3.85" ry="4.1" fill="#000"/>
<path d="M621.01 398.40L624.61 402.40L621.01 406.40L617.41 402.40Z" fill="#c1271f"/>
<path d="M621.01 410.70L624.61 414.70L621.01 418.70L617.41 414.70Z" fill="#c1271f"/>
<ellipse cx="645.19" cy="290.00" rx="3.85" ry="4.1" fill="#000"/>
<line x1="78" x2="78" y1="26.2" y2="480.5" stroke="#333" stroke-width="1.4"/>
<line x1="77.3" x2="670" y1="254.7" y2="254.7" stroke="#333" stroke-width="1.6"/>
<line x1="77.3" x2="674" y1="480.3" y2="480.3" stroke="#333" stroke-width="1.3"/>
<line x1="73.6" x2="78" y1="26.90" y2="26.90" stroke="#333" stroke-width="1.3"/>
<line x1="73.6" x2="78" y1="46.94" y2="46.94" stroke="#333" stroke-width="1.3"/>
<line x1="73.6" x2="78" y1="67.57" y2="67.57" stroke="#333" stroke-width="1.3"/>
<line x1="73.6" x2="78" y1="88.20" y2="88.20" stroke="#333" stroke-width="1.3"/>
<line x1="73.6" x2="78" y1="108.83" y2="108.83" stroke="#333" stroke-width="1.3"/>
<line x1="73.6" x2="78" y1="129.46" y2="129.46" stroke="#333" stroke-width="1.3"/>
<line x1="73.6" x2="78" y1="150.09" y2="150.09" stroke="#333" stroke-width="1.3"/>
<line x1="73.6" x2="78" y1="170.72" y2="170.72" stroke="#333" stroke-width="1.3"/>
<line x1="73.6" x2="78" y1="191.35" y2="191.35" stroke="#333" stroke-width="1.3"/>
<line x1="73.6" x2="78" y1="211.98" y2="211.98" stroke="#333" stroke-width="1.3"/>
<line x1="73.6" x2="78" y1="232.61" y2="232.61" stroke="#333" stroke-width="1.3"/>
<line x1="73.6" x2="78" y1="253.00" y2="253.00" stroke="#333" stroke-width="1.3"/>
<line x1="73.6" x2="78" y1="256.10" y2="256.10" stroke="#333" stroke-width="1.3"/>
<line x1="73.6" x2="78" y1="281.10" y2="281.10" stroke="#333" stroke-width="1.3"/>
<line x1="73.6" x2="78" y1="305.85" y2="305.85" stroke="#333" stroke-width="1.3"/>
<line x1="73.6" x2="78" y1="330.60" y2="330.60" stroke="#333" stroke-width="1.3"/>
<line x1="73.6" x2="78" y1="355.35" y2="355.35" stroke="#333" stroke-width="1.3"/>
<line x1="73.6" x2="78" y1="380.10" y2="380.10" stroke="#333" stroke-width="1.3"/>
<line x1="73.6" x2="78" y1="404.85" y2="404.85" stroke="#333" stroke-width="1.3"/>
<line x1="73.6" x2="78" y1="429.60" y2="429.60" stroke="#333" stroke-width="1.3"/>
<line x1="73.6" x2="78" y1="454.35" y2="454.35" stroke="#333" stroke-width="1.3"/>
<line x1="73.6" x2="78" y1="479.40" y2="479.40" stroke="#333" stroke-width="1.3"/>
<line x1="85.70" x2="85.70" y1="480" y2="486" stroke="#333" stroke-width="1.3"/>
<line x1="110.03" x2="110.03" y1="480" y2="486" stroke="#333" stroke-width="1.3"/>
<line x1="134.36" x2="134.36" y1="480" y2="486" stroke="#333" stroke-width="1.3"/>
<line x1="158.69" x2="158.69" y1="480" y2="486" stroke="#333" stroke-width="1.3"/>
<line x1="183.02" x2="183.02" y1="480" y2="486" stroke="#333" stroke-width="1.3"/>
<line x1="207.35" x2="207.35" y1="480" y2="486" stroke="#333" stroke-width="1.3"/>
<line x1="231.68" x2="231.68" y1="480" y2="486" stroke="#333" stroke-width="1.3"/>
<line x1="256.01" x2="256.01" y1="480" y2="486" stroke="#333" stroke-width="1.3"/>
<line x1="280.34" x2="280.34" y1="480" y2="486" stroke="#333" stroke-width="1.3"/>
<line x1="304.67" x2="304.67" y1="480" y2="486" stroke="#333" stroke-width="1.3"/>
<line x1="329.00" x2="329.00" y1="480" y2="486" stroke="#333" stroke-width="1.3"/>
<line x1="353.33" x2="353.33" y1="480" y2="486" stroke="#333" stroke-width="1.3"/>
<line x1="377.66" x2="377.66" y1="480" y2="486" stroke="#333" stroke-width="1.3"/>
<line x1="401.99" x2="401.99" y1="480" y2="486" stroke="#333" stroke-width="1.3"/>
<line x1="426.32" x2="426.32" y1="480" y2="486" stroke="#333" stroke-width="1.3"/>
<line x1="450.65" x2="450.65" y1="480" y2="486" stroke="#333" stroke-width="1.3"/>
<line x1="474.98" x2="474.98" y1="480" y2="486" stroke="#333" stroke-width="1.3"/>
<line x1="499.31" x2="499.31" y1="480" y2="486" stroke="#333" stroke-width="1.3"/>
<line x1="523.64" x2="523.64" y1="480" y2="486" stroke="#333" stroke-width="1.3"/>
<line x1="547.97" x2="547.97" y1="480" y2="486" stroke="#333" stroke-width="1.3"/>
<line x1="572.80" x2="572.80" y1="480" y2="486" stroke="#333" stroke-width="1.3"/>
<line x1="597.23" x2="597.23" y1="480" y2="486" stroke="#333" stroke-width="1.3"/>
<line x1="620.96" x2="620.96" y1="480" y2="486" stroke="#333" stroke-width="1.3"/>
<line x1="645.29" x2="645.29" y1="480" y2="486" stroke="#333" stroke-width="1.3"/>
<text x="69.1" y="50.89" text-anchor="end">100</text>
<text x="69.1" y="71.52" text-anchor="end">10</text>
<text x="69.1" y="92.15" text-anchor="end">1</text>
<text x="69.1" y="112.78" text-anchor="end">0.1</text>
<text x="69.1" y="133.41" text-anchor="end">0.01</text>
<text x="69.1" y="154.04" text-anchor="end">0.001</text>
<text x="69.1" y="174.67" text-anchor="end">0.0001</text>
<text x="69.1" y="195.30" text-anchor="end">0.00001</text>
<text x="69.1" y="215.93" text-anchor="end">0.000001</text>
<text x="69.1" y="236.56" text-anchor="end">0.0000001</text>
<text x="69.1" y="285.05" text-anchor="end">100</text>
<text x="69.1" y="309.80" text-anchor="end">10</text>
<text x="69.1" y="334.55" text-anchor="end">1</text>
<text x="69.1" y="359.30" text-anchor="end">0.1</text>
<text x="69.1" y="384.05" text-anchor="end">0.01</text>
<text x="69.1" y="408.80" text-anchor="end">0.001</text>
<text x="69.1" y="433.55" text-anchor="end">0.0001</text>
<text x="69.1" y="458.30" text-anchor="end">0.00001</text>
<text transform="translate(8.6 221.8) rotate(-90)" style="font-size:11.25px">Decompression rate (log MPa/s)</text>
<text transform="translate(21.2 421.3) rotate(-90)" style="font-size:11.25px">Ascent rate (log m/s)</text>
<text transform="translate(88.60 490.2) rotate(-90)" text-anchor="end" style="font-size:11.25px">Volcan de Fuego</text>
<text transform="translate(112.93 490.2) rotate(-90)" text-anchor="end" style="font-size:11.25px">Izu-Oshima</text>
<text transform="translate(137.26 490.2) rotate(-90)" text-anchor="end" style="font-size:11.25px">Chaparrastique</text>
<text transform="translate(161.59 490.2) rotate(-90)" text-anchor="end" style="font-size:11.25px">Arenal</text>
<text transform="translate(185.92 490.2) rotate(-90)" text-anchor="end" style="font-size:11.25px">Tungurahua</text>
<text transform="translate(210.25 490.2) rotate(-90)" text-anchor="end" style="font-size:11.25px">Vesuvius</text>
<text transform="translate(234.58 490.2) rotate(-90)" text-anchor="end" style="font-size:11.25px">Mt Pelee</text>
<text transform="translate(258.91 490.2) rotate(-90)" text-anchor="end" style="font-size:11.25px">Soufriere Hills</text>
<text transform="translate(283.24 490.2) rotate(-90)" text-anchor="end" style="font-size:11.25px">Colima</text>
<text transform="translate(307.57 490.2) rotate(-90)" text-anchor="end" style="font-size:11.25px">Sakurajima</text>
<text transform="translate(326.00 490.2) rotate(-90)" text-anchor="end" style="font-size:11.25px">Santiaguito/</text>
<text transform="translate(339.70 490.2) rotate(-90)" text-anchor="end" style="font-size:11.25px">Santa Maria</text>
<text transform="translate(356.23 490.2) rotate(-90)" text-anchor="end" style="font-size:11.25px">Pinatubo</text>
<text transform="translate(380.56 490.2) rotate(-90)" text-anchor="end" style="font-size:11.25px">Novarupta</text>
<text transform="translate(404.89 490.2) rotate(-90)" text-anchor="end" style="font-size:11.25px">Unzen</text>
<text transform="translate(429.22 490.2) rotate(-90)" text-anchor="end" style="font-size:11.25px">Black Butte</text>
<text transform="translate(453.55 490.2) rotate(-90)" text-anchor="end" style="font-size:11.25px">Towada</text>
<text transform="translate(477.88 490.2) rotate(-90)" text-anchor="end" style="font-size:11.25px">Mt. St. Helens</text>
<text transform="translate(501.91 490.2) rotate(-90)" text-anchor="end" style="font-size:11.25px">Inyo</text>
<text transform="translate(526.54 490.2) rotate(-90)" text-anchor="end" style="font-size:11.25px">Chaiten</text>
<text transform="translate(550.87 490.2) rotate(-90)" text-anchor="end" style="font-size:11.25px">Cordon Caulle</text>
<text transform="translate(575.50 490.2) rotate(-90)" text-anchor="end" style="font-size:11.25px">Tokachi–Ishizawa</text>
<text transform="translate(600.33 490.2) rotate(-90)" text-anchor="end" style="font-size:11.25px">Taupo</text>
<text transform="translate(624.86 490.2) rotate(-90)" text-anchor="end" style="font-size:11.25px">Yellowstone</text>
<text transform="translate(648.19 490.2) rotate(-90)" text-anchor="end" style="font-size:11.25px">Bishop tuff</text>
<text x="636.6" y="160.8">Explosive</text>
<text x="636.6" y="189.2" style="fill:#c1271f;stroke:#c1271f">Effusive</text>
<text x="637.4" y="367.5">Explosive</text>
<text x="637.2" y="396" style="fill:#c1271f;stroke:#c1271f">Effusive</text>
<path d="M82.1 590.2L86.4 599.4L77.8 599.4Z" fill="#000"/>
<text x="93.4" y="598.5">Hornblende rims</text>
<circle cx="82" cy="616.6" r="4" fill="#fff" stroke="#000" stroke-width="1.5"/>
<text x="93.4" y="620.6">Bubble number density</text>
<circle cx="231.4" cy="595" r="4" fill="#000"/>
<text x="242.7" y="598.5">Diffusion</text>
<path d="M230.9 612.6L235 616.8L230.9 621L226.8 616.8Z" fill="#000"/>
<text x="242.7" y="620.6">Microlite number density</text>
<path d="M381 591L389 599M389 591L381 599" stroke="#000" stroke-width="2.2"/>
<text x="397.0" y="598.5">Monitoring data</text>
<rect x="381.2" y="613.1" width="7.6" height="7.6" fill="#000"/>
<text x="397.0" y="620.6">Experiments</text>
</svg></body></html>
